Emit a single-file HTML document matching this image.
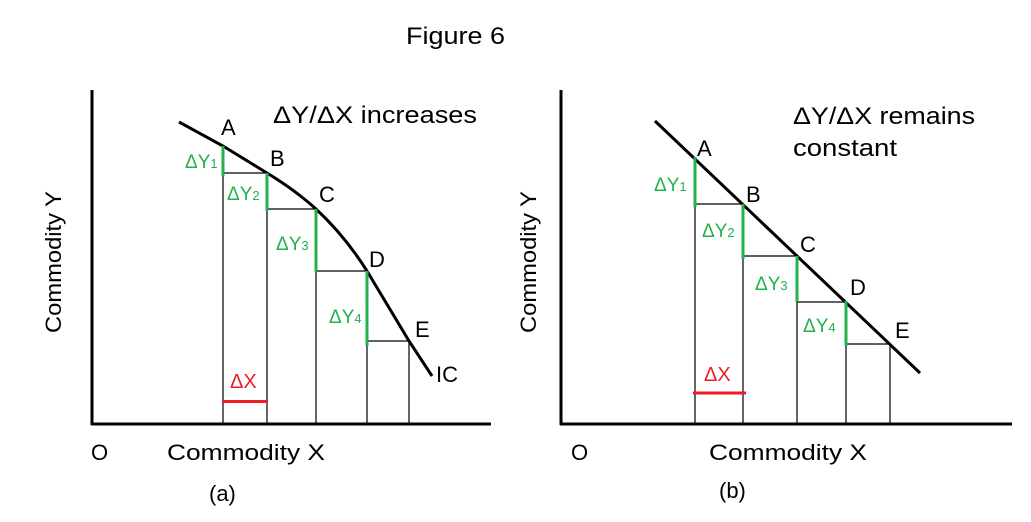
<!DOCTYPE html>
<html><head><meta charset="utf-8"><style>
body{margin:0;background:#fff;}
svg text{font-family:"Liberation Sans",Arial,sans-serif;}
</style></head><body>
<svg width="1031" height="517" viewBox="0 0 1031 517" xmlns="http://www.w3.org/2000/svg">
<rect width="1031" height="517" fill="#fff"/>
<text x="406" y="44" font-size="24" textLength="99" lengthAdjust="spacingAndGlyphs">Figure 6</text>

<!-- Panel a -->
<g stroke="#000" fill="none">
<line x1="92" y1="90" x2="92" y2="425" stroke-width="3"/>
<line x1="91" y1="424" x2="491" y2="424" stroke-width="3"/>
<path d="M179,122 L223,146 L267,173 Q295,190 316,209 Q345,236 367,271 L409,341 L432,376" stroke-width="3"/>
<g stroke-width="1.2">
<line x1="223" y1="146" x2="223" y2="424"/><line x1="223" y1="173" x2="267" y2="173"/>
<line x1="267" y1="173" x2="267" y2="424"/><line x1="267" y1="209" x2="316" y2="209"/>
<line x1="316" y1="209" x2="316" y2="424"/><line x1="316" y1="271" x2="367" y2="271"/>
<line x1="367" y1="271" x2="367" y2="424"/><line x1="367" y1="341" x2="409" y2="341"/>
<line x1="409" y1="341" x2="409" y2="424"/>
</g>
</g>
<g stroke="#22b14c" stroke-width="3">
<line x1="223" y1="146" x2="223" y2="176"/><line x1="267" y1="173" x2="267" y2="211"/>
<line x1="316" y1="209" x2="316" y2="272"/><line x1="367" y1="271" x2="367" y2="346"/>
</g>
<line x1="222" y1="401.5" x2="268" y2="401.5" stroke="#ed1c24" stroke-width="3"/>
<g font-size="22">
<text x="221" y="135">A</text><text x="270" y="166">B</text><text x="319" y="202">C</text>
<text x="369" y="267">D</text><text x="415" y="337">E</text><text x="436" y="382">IC</text>
</g>
<text x="273" y="123" font-size="24" textLength="204" lengthAdjust="spacingAndGlyphs">ΔY/ΔX increases</text>
<g fill="#22b14c" font-size="19">
<text x="185" y="168">ΔY<tspan font-size="13">1</tspan></text>
<text x="227" y="200">ΔY<tspan font-size="13">2</tspan></text>
<text x="276" y="250">ΔY<tspan font-size="13">3</tspan></text>
<text x="329" y="323">ΔY<tspan font-size="13">4</tspan></text>
</g>
<text x="230" y="388" fill="#ed1c24" font-size="20">ΔX</text>
<text x="91" y="460" font-size="22">O</text>
<text x="167" y="460" font-size="22" textLength="158" lengthAdjust="spacingAndGlyphs">Commodity X</text>
<text x="209" y="501" font-size="22">(a)</text>
<text transform="translate(61,262) rotate(-90)" font-size="22" text-anchor="middle" textLength="142" lengthAdjust="spacingAndGlyphs">Commodity Y</text>

<!-- Panel b -->
<g stroke="#000" fill="none">
<line x1="561" y1="90" x2="561" y2="425" stroke-width="3"/>
<line x1="560" y1="424" x2="1012" y2="424" stroke-width="3"/>
<line x1="655" y1="121" x2="920" y2="373" stroke-width="3"/>
<g stroke-width="1.2">
<line x1="695" y1="157" x2="695" y2="424"/><line x1="695" y1="204" x2="743" y2="204"/>
<line x1="743" y1="204" x2="743" y2="424"/><line x1="743" y1="256" x2="797" y2="256"/>
<line x1="797" y1="256" x2="797" y2="424"/><line x1="797" y1="302" x2="846" y2="302"/>
<line x1="846" y1="302" x2="846" y2="424"/><line x1="846" y1="344" x2="890" y2="344"/>
<line x1="890" y1="344" x2="890" y2="424"/>
</g>
</g>
<g stroke="#22b14c" stroke-width="3">
<line x1="695" y1="157" x2="695" y2="207"/><line x1="743" y1="204" x2="743" y2="259"/>
<line x1="797" y1="256" x2="797" y2="302"/><line x1="846" y1="301" x2="846" y2="346"/>
</g>
<line x1="693" y1="393" x2="746" y2="393" stroke="#ed1c24" stroke-width="3"/>
<g font-size="22">
<text x="697" y="156">A</text><text x="746" y="202">B</text><text x="800" y="252">C</text>
<text x="850" y="295">D</text><text x="895" y="338">E</text>
</g>
<text x="793" y="124" font-size="24" textLength="182" lengthAdjust="spacingAndGlyphs">ΔY/ΔX remains</text>
<text x="793" y="156" font-size="24" textLength="104" lengthAdjust="spacingAndGlyphs">constant</text>
<g fill="#22b14c" font-size="19">
<text x="654" y="191">ΔY<tspan font-size="13">1</tspan></text>
<text x="702" y="237">ΔY<tspan font-size="13">2</tspan></text>
<text x="755" y="290">ΔY<tspan font-size="13">3</tspan></text>
<text x="803" y="332">ΔY<tspan font-size="13">4</tspan></text>
</g>
<text x="704" y="381" fill="#ed1c24" font-size="20">ΔX</text>
<text x="571" y="460" font-size="22">O</text>
<text x="709" y="460" font-size="22" textLength="158" lengthAdjust="spacingAndGlyphs">Commodity X</text>
<text x="719" y="498" font-size="22">(b)</text>
<text transform="translate(536,262) rotate(-90)" font-size="22" text-anchor="middle" textLength="142" lengthAdjust="spacingAndGlyphs">Commodity Y</text>
</svg>
</body></html>
